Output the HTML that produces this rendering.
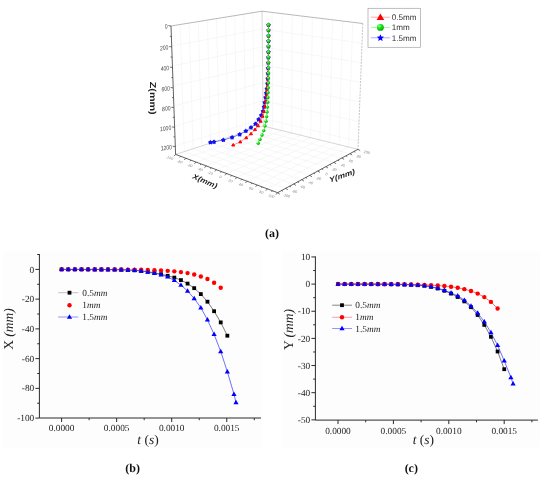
<!DOCTYPE html><html><head><meta charset="utf-8"><title>Figure</title>
<style>html,body{margin:0;padding:0;background:#fff}body{width:550px;height:480px;overflow:hidden}svg{display:block;filter:blur(0.35px)}.ser{font-family:"Liberation Serif", serif}.san{font-family:"Liberation Sans", sans-serif}</style></head><body>
<svg width="550" height="480" viewBox="0 0 550 480" text-rendering="geometricPrecision">
<rect width="550" height="480" fill="#fff"/>
<rect x="3" y="251.5" width="259" height="196" fill="#fdfdfd"/>
<rect x="282" y="251.5" width="258" height="196" fill="#fdfdfd"/>
<g stroke="#2b2b2b" stroke-width="1" fill="none" stroke-linecap="square">
<path d="M39.4 254.5 V418 H260.5"/>
<path d="M39.4 269.4 h-4 M39.4 299.14 h-4 M39.4 328.88 h-4 M39.4 358.62 h-4 M39.4 388.36 h-4 M39.4 418.1 h-4 M39.4 254.53 h-2.2 M39.4 284.27 h-2.2 M39.4 314.01 h-2.2 M39.4 343.75 h-2.2 M39.4 373.49 h-2.2 M39.4 403.23 h-2.2 M61.6 418 v4 M116.65 418 v4 M171.7 418 v4 M226.75 418 v4 M89.12 418 v2.2 M144.18 418 v2.2 M199.22 418 v2.2 M254.27 418 v2.2 " stroke-linecap="butt"/>
</g>
<g class="ser" font-size="9.3" fill="#222" text-anchor="end">
<text x="34.2" y="272.5">0</text>
<text x="34.2" y="302.24">-20</text>
<text x="34.2" y="331.98">-40</text>
<text x="34.2" y="361.72">-60</text>
<text x="34.2" y="391.46">-80</text>
<text x="34.2" y="421.2">-100</text>
</g>
<g class="ser" font-size="9.3" fill="#222" text-anchor="middle">
<text x="61.6" y="431.1">0.0000</text>
<text x="116.65" y="431.1">0.0005</text>
<text x="171.7" y="431.1">0.0010</text>
<text x="226.75" y="431.1">0.0015</text>
</g>
<text class="ser" font-size="13.5" fill="#222" text-anchor="middle" transform="translate(13 329) rotate(-90)">X <tspan font-style="italic">(mm)</tspan></text>
<text class="ser" font-size="13.5" fill="#222" text-anchor="middle" x="148" y="443.8"><tspan font-style="italic">t</tspan> (<tspan font-style="italic">s</tspan>)</text>
<polyline fill="none" stroke="#444" stroke-width="0.7" points="61.6,269.4 68.23,269.4 74.86,269.4 81.49,269.4 88.12,269.4 94.75,269.42 101.38,269.44 108.01,269.49 114.64,269.58 121.27,269.73 127.9,269.97 134.53,270.33 141.16,270.9 147.79,271.7 154.42,272.8 161.05,274.2 167.68,275.8 174.31,277.6 180.94,280.1 187.57,283.6 194.2,288.15 200.83,294.1 207.46,301.7 214.09,311.2 220.72,322.4 227.35,335.7"/>
<g fill="#000">
<rect x="59.7" y="267.5" width="3.8" height="3.8"/>
<rect x="66.33" y="267.5" width="3.8" height="3.8"/>
<rect x="72.96" y="267.5" width="3.8" height="3.8"/>
<rect x="79.59" y="267.5" width="3.8" height="3.8"/>
<rect x="86.22" y="267.5" width="3.8" height="3.8"/>
<rect x="92.85" y="267.52" width="3.8" height="3.8"/>
<rect x="99.48" y="267.54" width="3.8" height="3.8"/>
<rect x="106.11" y="267.59" width="3.8" height="3.8"/>
<rect x="112.74" y="267.68" width="3.8" height="3.8"/>
<rect x="119.37" y="267.83" width="3.8" height="3.8"/>
<rect x="126" y="268.07" width="3.8" height="3.8"/>
<rect x="132.63" y="268.43" width="3.8" height="3.8"/>
<rect x="139.26" y="269" width="3.8" height="3.8"/>
<rect x="145.89" y="269.8" width="3.8" height="3.8"/>
<rect x="152.52" y="270.9" width="3.8" height="3.8"/>
<rect x="159.15" y="272.3" width="3.8" height="3.8"/>
<rect x="165.78" y="273.9" width="3.8" height="3.8"/>
<rect x="172.41" y="275.7" width="3.8" height="3.8"/>
<rect x="179.04" y="278.2" width="3.8" height="3.8"/>
<rect x="185.67" y="281.7" width="3.8" height="3.8"/>
<rect x="192.3" y="286.25" width="3.8" height="3.8"/>
<rect x="198.93" y="292.2" width="3.8" height="3.8"/>
<rect x="205.56" y="299.8" width="3.8" height="3.8"/>
<rect x="212.19" y="309.3" width="3.8" height="3.8"/>
<rect x="218.82" y="320.5" width="3.8" height="3.8"/>
<rect x="225.45" y="333.8" width="3.8" height="3.8"/>
</g>
<g fill="#f00">
<circle cx="61.6" cy="269.41" r="2.2"/>
<circle cx="68.23" cy="269.41" r="2.2"/>
<circle cx="74.86" cy="269.42" r="2.2"/>
<circle cx="81.49" cy="269.42" r="2.2"/>
<circle cx="88.12" cy="269.43" r="2.2"/>
<circle cx="94.75" cy="269.44" r="2.2"/>
<circle cx="101.38" cy="269.46" r="2.2"/>
<circle cx="108.01" cy="269.48" r="2.2"/>
<circle cx="114.64" cy="269.51" r="2.2"/>
<circle cx="121.27" cy="269.55" r="2.2"/>
<circle cx="127.9" cy="269.61" r="2.2"/>
<circle cx="134.53" cy="269.69" r="2.2"/>
<circle cx="141.16" cy="269.8" r="2.2"/>
<circle cx="147.79" cy="269.95" r="2.2"/>
<circle cx="154.42" cy="270.16" r="2.2"/>
<circle cx="161.05" cy="270.44" r="2.2"/>
<circle cx="167.68" cy="270.83" r="2.2"/>
<circle cx="174.31" cy="271.37" r="2.2"/>
<circle cx="180.94" cy="272.11" r="2.2"/>
<circle cx="187.57" cy="273.12" r="2.2"/>
<circle cx="194.2" cy="274.52" r="2.2"/>
<circle cx="200.83" cy="276.44" r="2.2"/>
<circle cx="207.46" cy="279.07" r="2.2"/>
<circle cx="214.09" cy="282.7" r="2.2"/>
<circle cx="220.72" cy="287.69" r="2.2"/>
</g>
<polyline fill="none" stroke="#33f" stroke-width="0.7" points="61.6,269.4 68.23,269.4 74.86,269.4 81.49,269.4 88.12,269.42 94.75,269.44 101.38,269.48 108.01,269.55 114.64,269.65 121.27,269.8 127.9,270.01 134.53,270.3 141.16,271 147.79,272.1 154.42,273.2 161.05,274.7 167.68,276.9 174.31,280.4 180.94,285.1 187.57,291 194.2,298.5 200.83,307.7 207.46,319.8 214.09,334.3 220.72,351.5 227.35,371.7 233.98,394.2 236,402.5"/>
<g fill="#00f">
<path d="M61.6 266.7 l2.6 4.4 h-5.2z"/>
<path d="M68.23 266.7 l2.6 4.4 h-5.2z"/>
<path d="M74.86 266.7 l2.6 4.4 h-5.2z"/>
<path d="M81.49 266.7 l2.6 4.4 h-5.2z"/>
<path d="M88.12 266.72 l2.6 4.4 h-5.2z"/>
<path d="M94.75 266.74 l2.6 4.4 h-5.2z"/>
<path d="M101.38 266.78 l2.6 4.4 h-5.2z"/>
<path d="M108.01 266.85 l2.6 4.4 h-5.2z"/>
<path d="M114.64 266.95 l2.6 4.4 h-5.2z"/>
<path d="M121.27 267.1 l2.6 4.4 h-5.2z"/>
<path d="M127.9 267.31 l2.6 4.4 h-5.2z"/>
<path d="M134.53 267.6 l2.6 4.4 h-5.2z"/>
<path d="M141.16 268.3 l2.6 4.4 h-5.2z"/>
<path d="M147.79 269.4 l2.6 4.4 h-5.2z"/>
<path d="M154.42 270.5 l2.6 4.4 h-5.2z"/>
<path d="M161.05 272 l2.6 4.4 h-5.2z"/>
<path d="M167.68 274.2 l2.6 4.4 h-5.2z"/>
<path d="M174.31 277.7 l2.6 4.4 h-5.2z"/>
<path d="M180.94 282.4 l2.6 4.4 h-5.2z"/>
<path d="M187.57 288.3 l2.6 4.4 h-5.2z"/>
<path d="M194.2 295.8 l2.6 4.4 h-5.2z"/>
<path d="M200.83 305 l2.6 4.4 h-5.2z"/>
<path d="M207.46 317.1 l2.6 4.4 h-5.2z"/>
<path d="M214.09 331.6 l2.6 4.4 h-5.2z"/>
<path d="M220.72 348.8 l2.6 4.4 h-5.2z"/>
<path d="M227.35 369 l2.6 4.4 h-5.2z"/>
<path d="M233.98 391.5 l2.6 4.4 h-5.2z"/>
<path d="M236 399.8 l2.6 4.4 h-5.2z"/>
</g>
<path d="M58.2 292.7 H78.3" stroke="#aaa" stroke-width="0.7"/>
<g fill="#000">
<rect x="67.6" y="290.8" width="3.8" height="3.8"/>
</g>
<text class="ser" font-size="9.3" fill="#222" x="82.3" y="295.7">0.5<tspan font-style="italic">mm</tspan></text>
<g fill="#f00">
<circle cx="69.5" cy="305.2" r="2.2"/>
</g>
<text class="ser" font-size="9.3" fill="#222" x="82.3" y="308.2">1<tspan font-style="italic">mm</tspan></text>
<path d="M58.2 317 H78.3" stroke="#66f" stroke-width="0.7"/>
<g fill="#00f">
<path d="M69.5 314.3 l2.6 4.4 h-5.2z"/>
</g>
<text class="ser" font-size="9.3" fill="#222" x="82.3" y="320">1.5<tspan font-style="italic">mm</tspan></text>
<text class="ser" font-size="12" font-weight="bold" fill="#111" text-anchor="middle" x="132.7" y="471.5">(b)</text>
<g stroke="#2b2b2b" stroke-width="1" fill="none" stroke-linecap="square">
<path d="M315.4 256.9 V420.1 H537.4"/>
<path d="M315.4 256.95 h-4 M315.4 284.1 h-4 M315.4 311.25 h-4 M315.4 338.4 h-4 M315.4 365.55 h-4 M315.4 392.7 h-4 M315.4 419.85 h-4 M315.4 270.53 h-2.2 M315.4 297.68 h-2.2 M315.4 324.82 h-2.2 M315.4 351.98 h-2.2 M315.4 379.12 h-2.2 M315.4 406.28 h-2.2 M338 420.1 v4 M393.4 420.1 v4 M448.8 420.1 v4 M504.2 420.1 v4 M365.7 420.1 v2.2 M421.1 420.1 v2.2 M476.5 420.1 v2.2 M531.9 420.1 v2.2 " stroke-linecap="butt"/>
</g>
<g class="ser" font-size="9.3" fill="#222" text-anchor="end">
<text x="310.2" y="260.05">10</text>
<text x="310.2" y="287.2">0</text>
<text x="310.2" y="314.35">-10</text>
<text x="310.2" y="341.5">-20</text>
<text x="310.2" y="368.65">-30</text>
<text x="310.2" y="395.8">-40</text>
<text x="310.2" y="422.95">-50</text>
</g>
<g class="ser" font-size="9.3" fill="#222" text-anchor="middle">
<text x="338" y="433.7">0.0000</text>
<text x="393.4" y="433.7">0.0005</text>
<text x="448.8" y="433.7">0.0010</text>
<text x="504.2" y="433.7">0.0015</text>
</g>
<text class="ser" font-size="13.5" fill="#222" text-anchor="middle" transform="translate(293 329.5) rotate(-90)">Y <tspan font-style="italic">(mm)</tspan></text>
<text class="ser" font-size="13.5" fill="#222" text-anchor="middle" x="423.4" y="443.7"><tspan font-style="italic">t</tspan> (<tspan font-style="italic">s</tspan>)</text>
<polyline fill="none" stroke="#444" stroke-width="0.7" points="338,284.1 344.65,284.1 351.3,284.1 357.95,284.1 364.6,284.1 371.25,284.11 377.9,284.13 384.55,284.17 391.2,284.24 397.85,284.36 404.5,284.54 411.15,284.81 417.8,285.2 424.45,285.8 431.1,286.9 437.75,288.5 444.4,290.8 451.05,293.6 457.7,297 464.35,301.4 471,307.2 477.65,315 484.3,324.9 490.95,336.8 497.6,351.5 504.25,369.2"/>
<g fill="#000">
<rect x="336.1" y="282.2" width="3.8" height="3.8"/>
<rect x="342.75" y="282.2" width="3.8" height="3.8"/>
<rect x="349.4" y="282.2" width="3.8" height="3.8"/>
<rect x="356.05" y="282.2" width="3.8" height="3.8"/>
<rect x="362.7" y="282.2" width="3.8" height="3.8"/>
<rect x="369.35" y="282.21" width="3.8" height="3.8"/>
<rect x="376" y="282.23" width="3.8" height="3.8"/>
<rect x="382.65" y="282.27" width="3.8" height="3.8"/>
<rect x="389.3" y="282.34" width="3.8" height="3.8"/>
<rect x="395.95" y="282.46" width="3.8" height="3.8"/>
<rect x="402.6" y="282.64" width="3.8" height="3.8"/>
<rect x="409.25" y="282.91" width="3.8" height="3.8"/>
<rect x="415.9" y="283.3" width="3.8" height="3.8"/>
<rect x="422.55" y="283.9" width="3.8" height="3.8"/>
<rect x="429.2" y="285" width="3.8" height="3.8"/>
<rect x="435.85" y="286.6" width="3.8" height="3.8"/>
<rect x="442.5" y="288.9" width="3.8" height="3.8"/>
<rect x="449.15" y="291.7" width="3.8" height="3.8"/>
<rect x="455.8" y="295.1" width="3.8" height="3.8"/>
<rect x="462.45" y="299.5" width="3.8" height="3.8"/>
<rect x="469.1" y="305.3" width="3.8" height="3.8"/>
<rect x="475.75" y="313.1" width="3.8" height="3.8"/>
<rect x="482.4" y="323" width="3.8" height="3.8"/>
<rect x="489.05" y="334.9" width="3.8" height="3.8"/>
<rect x="495.7" y="349.6" width="3.8" height="3.8"/>
<rect x="502.35" y="367.3" width="3.8" height="3.8"/>
</g>
<polyline fill="none" stroke="#f33" stroke-width="0.7" points="338,284.11 344.65,284.12 351.3,284.12 357.95,284.13 364.6,284.14 371.25,284.16 377.9,284.18 384.55,284.22 391.2,284.26 397.85,284.32 404.5,284.4 411.15,284.51 417.8,284.66 424.45,284.86 431.1,285.15 437.75,285.54 444.4,286.07 451.05,286.79 457.7,287.79 464.35,289.16 471,291.03 477.65,293.59 484.3,297.1 490.95,301.91 497.6,308.5"/>
<g fill="#f00">
<circle cx="338" cy="284.11" r="2.2"/>
<circle cx="344.65" cy="284.12" r="2.2"/>
<circle cx="351.3" cy="284.12" r="2.2"/>
<circle cx="357.95" cy="284.13" r="2.2"/>
<circle cx="364.6" cy="284.14" r="2.2"/>
<circle cx="371.25" cy="284.16" r="2.2"/>
<circle cx="377.9" cy="284.18" r="2.2"/>
<circle cx="384.55" cy="284.22" r="2.2"/>
<circle cx="391.2" cy="284.26" r="2.2"/>
<circle cx="397.85" cy="284.32" r="2.2"/>
<circle cx="404.5" cy="284.4" r="2.2"/>
<circle cx="411.15" cy="284.51" r="2.2"/>
<circle cx="417.8" cy="284.66" r="2.2"/>
<circle cx="424.45" cy="284.86" r="2.2"/>
<circle cx="431.1" cy="285.15" r="2.2"/>
<circle cx="437.75" cy="285.54" r="2.2"/>
<circle cx="444.4" cy="286.07" r="2.2"/>
<circle cx="451.05" cy="286.79" r="2.2"/>
<circle cx="457.7" cy="287.79" r="2.2"/>
<circle cx="464.35" cy="289.16" r="2.2"/>
<circle cx="471" cy="291.03" r="2.2"/>
<circle cx="477.65" cy="293.59" r="2.2"/>
<circle cx="484.3" cy="297.1" r="2.2"/>
<circle cx="490.95" cy="301.91" r="2.2"/>
<circle cx="497.6" cy="308.5" r="2.2"/>
</g>
<polyline fill="none" stroke="#33f" stroke-width="0.7" points="338,284.1 344.65,284.1 351.3,284.1 357.95,284.1 364.6,284.1 371.25,284.11 377.9,284.13 384.55,284.17 391.2,284.23 397.85,284.34 404.5,284.5 411.15,284.75 417.8,285.1 424.45,285.6 431.1,286.6 437.75,288.1 444.4,290.3 451.05,292.9 457.7,295.8 464.35,300.1 471,306 477.65,313 484.3,321.6 490.95,332.5 497.6,345.3 504.25,360.8 510.9,377.5 513.1,383.8"/>
<g fill="#00f">
<path d="M338 281.4 l2.6 4.4 h-5.2z"/>
<path d="M344.65 281.4 l2.6 4.4 h-5.2z"/>
<path d="M351.3 281.4 l2.6 4.4 h-5.2z"/>
<path d="M357.95 281.4 l2.6 4.4 h-5.2z"/>
<path d="M364.6 281.4 l2.6 4.4 h-5.2z"/>
<path d="M371.25 281.41 l2.6 4.4 h-5.2z"/>
<path d="M377.9 281.43 l2.6 4.4 h-5.2z"/>
<path d="M384.55 281.47 l2.6 4.4 h-5.2z"/>
<path d="M391.2 281.53 l2.6 4.4 h-5.2z"/>
<path d="M397.85 281.64 l2.6 4.4 h-5.2z"/>
<path d="M404.5 281.8 l2.6 4.4 h-5.2z"/>
<path d="M411.15 282.05 l2.6 4.4 h-5.2z"/>
<path d="M417.8 282.4 l2.6 4.4 h-5.2z"/>
<path d="M424.45 282.9 l2.6 4.4 h-5.2z"/>
<path d="M431.1 283.9 l2.6 4.4 h-5.2z"/>
<path d="M437.75 285.4 l2.6 4.4 h-5.2z"/>
<path d="M444.4 287.6 l2.6 4.4 h-5.2z"/>
<path d="M451.05 290.2 l2.6 4.4 h-5.2z"/>
<path d="M457.7 293.1 l2.6 4.4 h-5.2z"/>
<path d="M464.35 297.4 l2.6 4.4 h-5.2z"/>
<path d="M471 303.3 l2.6 4.4 h-5.2z"/>
<path d="M477.65 310.3 l2.6 4.4 h-5.2z"/>
<path d="M484.3 318.9 l2.6 4.4 h-5.2z"/>
<path d="M490.95 329.8 l2.6 4.4 h-5.2z"/>
<path d="M497.6 342.6 l2.6 4.4 h-5.2z"/>
<path d="M504.25 358.1 l2.6 4.4 h-5.2z"/>
<path d="M510.9 374.8 l2.6 4.4 h-5.2z"/>
<path d="M513.1 381.1 l2.6 4.4 h-5.2z"/>
</g>
<path d="M332.2 305.2 H352" stroke="#555" stroke-width="0.7"/>
<g fill="#000">
<rect x="340.1" y="303.3" width="3.8" height="3.8"/>
</g>
<text class="ser" font-size="9.3" fill="#222" x="355.3" y="308.2">0.5<tspan font-style="italic">mm</tspan></text>
<path d="M332.2 317.25 H352" stroke="#f77" stroke-width="0.7"/>
<g fill="#f00">
<circle cx="342" cy="317.25" r="2.2"/>
</g>
<text class="ser" font-size="9.3" fill="#222" x="355.3" y="320.25">1<tspan font-style="italic">mm</tspan></text>
<path d="M332.2 328.5 H352" stroke="#66f" stroke-width="0.7"/>
<g fill="#00f">
<path d="M342 325.8 l2.6 4.4 h-5.2z"/>
</g>
<text class="ser" font-size="9.3" fill="#222" x="355.3" y="331.5">1.5<tspan font-style="italic">mm</tspan></text>
<text class="ser" font-size="12" font-weight="bold" fill="#111" text-anchor="middle" x="411.3" y="471.5">(c)</text>
<path d="M171.72 46.02 L262.19 29.1 M262.19 29.1 L362.05 43.11 M172.43 66.03 L262.37 46.99 M262.37 46.99 L361.3 62.72 M173.15 86.05 L262.56 64.89 M262.56 64.89 L360.56 82.33 M173.87 106.06 L262.75 82.78 M262.75 82.78 L359.81 101.94 M174.59 126.08 L262.94 100.68 M262.94 100.68 L359.06 121.55 M175.3 146.09 L263.12 118.57 M263.12 118.57 L358.31 141.16 M180.1 24.52 L184.36 151.56 M272.08 12.43 L272.68 128.33 M184.36 151.56 L285.64 188.36 M185.8 158.23 L272.68 128.33 M189.2 23.04 L193.12 148.72 M282.16 13.66 L282.16 130.66 M193.12 148.72 L293.68 184.02 M196 162.06 L282.16 130.66 M198.3 21.56 L201.88 145.88 M292.24 14.89 L291.64 132.99 M201.88 145.88 L301.72 179.68 M206.2 165.89 L291.64 132.99 M207.4 20.08 L210.64 143.04 M302.32 16.12 L301.12 135.32 M210.64 143.04 L309.76 175.34 M216.4 169.72 L301.12 135.32 M216.5 18.6 L219.4 140.2 M312.4 17.35 L310.6 137.65 M219.4 140.2 L317.8 171 M226.6 173.55 L310.6 137.65 M225.6 17.12 L228.16 137.36 M322.48 18.58 L320.08 139.98 M228.16 137.36 L325.84 166.66 M236.8 177.38 L320.08 139.98 M234.7 15.64 L236.92 134.52 M332.56 19.81 L329.56 142.31 M236.92 134.52 L333.88 162.32 M247 181.21 L329.56 142.31 M243.8 14.16 L245.68 131.68 M342.64 21.04 L339.04 144.64 M245.68 131.68 L341.92 157.98 M257.2 185.04 L339.04 144.64 M252.9 12.68 L254.44 128.84 M352.72 22.27 L348.52 146.97 M254.44 128.84 L349.96 153.64 M267.4 188.87 L348.52 146.97 " stroke="#f1f1f1" stroke-width="0.6" fill="none"/>
<path d="M262 11.2 L263.2 126 M175.6 154.4 L263.2 126 M263.2 126 L358 149.3 " stroke="#c4c4c4" stroke-width="0.7" fill="none"/>
<path d="M171 26 L262 11.2 M262 11.2 L362.8 23.5 " stroke="#9a9a9a" stroke-width="0.7" fill="none"/>
<path d="M362.8 23.5 L358 149.3 " stroke="#aaa" stroke-width="0.7" stroke-dasharray="2 1.2" fill="none"/>
<path d="M171 26 L175.6 154.4 M175.6 154.4 L277.6 192.7 M277.6 192.7 L358 149.3 " stroke="#3a3a3a" stroke-width="0.8" fill="none"/>
<path d="M171 26 l-2.6 -0.4 M171.37 36.45 l-1.5 -0.2 M171.75 46.9 l-2.6 -0.4 M172.12 57.2 l-1.5 -0.2 M172.49 67.5 l-2.6 -0.4 M172.85 77.7 l-1.5 -0.2 M173.22 87.9 l-2.6 -0.4 M173.57 97.75 l-1.5 -0.2 M173.92 107.6 l-2.6 -0.4 M174.27 117.45 l-1.5 -0.2 M174.63 127.3 l-2.6 -0.4 M174.97 136.95 l-1.5 -0.2 M175.32 146.6 l-2.6 -0.4 M175.6 154.4 l-1.6 1.8 M277.6 192.7 l2.2 1.4 M185.8 158.23 l-1.6 1.8 M285.64 188.36 l2.2 1.4 M196 162.06 l-1.6 1.8 M293.68 184.02 l2.2 1.4 M206.2 165.89 l-1.6 1.8 M301.72 179.68 l2.2 1.4 M216.4 169.72 l-1.6 1.8 M309.76 175.34 l2.2 1.4 M226.6 173.55 l-1.6 1.8 M317.8 171 l2.2 1.4 M236.8 177.38 l-1.6 1.8 M325.84 166.66 l2.2 1.4 M247 181.21 l-1.6 1.8 M333.88 162.32 l2.2 1.4 M257.2 185.04 l-1.6 1.8 M341.92 157.98 l2.2 1.4 M267.4 188.87 l-1.6 1.8 M349.96 153.64 l2.2 1.4 M277.6 192.7 l-1.6 1.8 M358 149.3 l2.2 1.4 M180.7 156.31 l-1 1.1 M281.62 190.53 l1.3 0.8 M190.9 160.15 l-1 1.1 M289.66 186.19 l1.3 0.8 M201.1 163.97 l-1 1.1 M297.7 181.85 l1.3 0.8 M211.3 167.81 l-1 1.1 M305.74 177.51 l1.3 0.8 M221.5 171.63 l-1 1.1 M313.78 173.17 l1.3 0.8 M231.7 175.47 l-1 1.1 M321.82 168.83 l1.3 0.8 M241.9 179.29 l-1 1.1 M329.86 164.49 l1.3 0.8 M252.1 183.12 l-1 1.1 M337.9 160.15 l1.3 0.8 M262.3 186.95 l-1 1.1 M345.94 155.81 l1.3 0.8 M272.5 190.78 l-1 1.1 M353.98 151.47 l1.3 0.8 " stroke="#333" stroke-width="0.7" fill="none"/>
<g class="san" font-size="6.2" fill="#4a4a4a" text-anchor="end" font-style="italic">
<text transform="translate(167.8 28.4) rotate(-8) scale(0.82 1)">0</text>
<text transform="translate(168.55 49.3) rotate(-8) scale(0.82 1)">200</text>
<text transform="translate(169.29 69.9) rotate(-8) scale(0.82 1)">400</text>
<text transform="translate(170.02 90.3) rotate(-8) scale(0.82 1)">600</text>
<text transform="translate(170.72 110) rotate(-8) scale(0.82 1)">800</text>
<text transform="translate(171.43 129.7) rotate(-8) scale(0.82 1)">1000</text>
<text transform="translate(172.12 149) rotate(-8) scale(0.82 1)">1200</text>
</g>
<g class="san" font-size="3.7" fill="#8a8a8a" text-anchor="middle" font-style="italic">
<text transform="translate(169.1 159) rotate(18)">-100</text>
<text transform="translate(179.3 162.83) rotate(18)">-80</text>
<text transform="translate(189.5 166.66) rotate(18)">-60</text>
<text transform="translate(199.7 170.49) rotate(18)">-40</text>
<text transform="translate(209.9 174.32) rotate(18)">-20</text>
<text transform="translate(220.1 178.15) rotate(18)">0</text>
<text transform="translate(230.3 181.98) rotate(18)">20</text>
<text transform="translate(240.5 185.81) rotate(18)">40</text>
<text transform="translate(250.7 189.64) rotate(18)">60</text>
<text transform="translate(260.9 193.47) rotate(18)">80</text>
<text transform="translate(271.1 197.3) rotate(18)">100</text>
<text transform="translate(286.1 196.9) rotate(14)">-100</text>
<text transform="translate(294.14 192.56) rotate(14)">-80</text>
<text transform="translate(302.18 188.22) rotate(14)">-60</text>
<text transform="translate(310.22 183.88) rotate(14)">-40</text>
<text transform="translate(318.26 179.54) rotate(14)">-20</text>
<text transform="translate(326.3 175.2) rotate(14)">0</text>
<text transform="translate(334.34 170.86) rotate(14)">20</text>
<text transform="translate(342.38 166.52) rotate(14)">40</text>
<text transform="translate(350.42 162.18) rotate(14)">60</text>
<text transform="translate(358.46 157.84) rotate(14)">80</text>
<text transform="translate(366.5 153.5) rotate(14)">100</text>
</g>
<g class="san" font-weight="bold" fill="#222" text-anchor="middle">
<text font-size="8.6" transform="translate(150 98.2) rotate(90) scale(1.25 1)">Z(mm)</text>
<text font-size="8" font-style="italic" transform="translate(204 183.4) rotate(23) scale(1.05 0.92)">X(mm)</text>
<text font-size="8" transform="translate(342.3 178.3) rotate(-19) skewX(-18) scale(1.08 0.92)">Y(mm)</text>
</g>
<polyline fill="none" stroke="#55f" stroke-width="0.75" points="268.5,24.8 268.5,30.2 268.49,35.7 268.48,41.02 268.45,46.34 268.4,51.87 268.33,57.33 268.23,62.7 268.1,68.1 267.93,73.42 267.72,78.58 267.46,83.57 266.9,88.75 266.25,93.1 265.6,97.5 264.75,102.5 264,106.9 263,111.25 261.25,115.25 258.6,119.4 255.5,123.8 251,127.5 245.85,131 239.7,134.4 232.1,137.4 223.3,140 214,141.9 210.4,142.3"/>
<g fill="#11e">
<polygon points="268.5,22.4 269.5,23.52 270.88,24.13 270.12,25.43 269.97,26.92 268.5,26.6 267.03,26.92 266.88,25.43 266.12,24.13 267.5,23.52"/>
<polygon points="268.5,27.8 269.5,28.93 270.88,29.53 270.12,30.83 269.97,32.32 268.5,32 267.03,32.32 266.88,30.83 266.12,29.53 267.5,28.93"/>
<polygon points="268.49,33.3 269.49,34.43 270.87,35.03 270.11,36.33 269.96,37.83 268.49,37.5 267.02,37.83 266.88,36.33 266.12,35.03 267.49,34.43"/>
<polygon points="268.48,38.62 269.48,39.74 270.86,40.34 270.1,41.64 269.95,43.14 268.48,42.82 267.01,43.14 266.86,41.64 266.1,40.34 267.48,39.74"/>
<polygon points="268.45,43.94 269.45,45.06 270.83,45.66 270.07,46.96 269.92,48.46 268.45,48.14 266.98,48.46 266.83,46.96 266.07,45.66 267.45,45.06"/>
<polygon points="268.4,49.47 269.4,50.6 270.78,51.2 270.02,52.5 269.87,53.99 268.4,53.67 266.93,53.99 266.79,52.5 266.02,51.2 267.4,50.6"/>
<polygon points="268.33,54.93 269.33,56.05 270.71,56.65 269.95,57.95 269.8,59.45 268.33,59.13 266.86,59.45 266.71,57.95 265.95,56.65 267.33,56.05"/>
<polygon points="268.23,60.3 269.23,61.42 270.61,62.03 269.85,63.32 269.7,64.82 268.23,64.5 266.76,64.82 266.62,63.32 265.85,62.03 267.23,61.42"/>
<polygon points="268.1,65.7 269.1,66.82 270.48,67.42 269.72,68.72 269.57,70.22 268.1,69.9 266.63,70.22 266.48,68.72 265.72,67.42 267.1,66.82"/>
<polygon points="267.93,71.02 268.93,72.15 270.31,72.75 269.55,74.05 269.4,75.54 267.93,75.22 266.46,75.54 266.31,74.05 265.55,72.75 266.93,72.15"/>
<polygon points="267.72,76.18 268.72,77.3 270.1,77.91 269.34,79.2 269.19,80.7 267.72,80.38 266.25,80.7 266.1,79.2 265.34,77.91 266.72,77.3"/>
<polygon points="267.46,81.17 268.46,82.29 269.84,82.9 269.08,84.2 268.93,85.69 267.46,85.37 265.99,85.69 265.84,84.2 265.08,82.9 266.46,82.29"/>
<polygon points="266.9,86.35 267.9,87.47 269.28,88.08 268.52,89.38 268.37,90.87 266.9,90.55 265.43,90.87 265.28,89.38 264.52,88.08 265.9,87.47"/>
<polygon points="266.25,90.7 267.25,91.82 268.63,92.43 267.87,93.73 267.72,95.22 266.25,94.9 264.78,95.22 264.63,93.73 263.87,92.43 265.25,91.82"/>
<polygon points="265.6,95.1 266.6,96.22 267.98,96.83 267.22,98.13 267.07,99.62 265.6,99.3 264.13,99.62 263.98,98.13 263.22,96.83 264.6,96.22"/>
<polygon points="264.75,100.1 265.75,101.22 267.13,101.83 266.37,103.13 266.22,104.62 264.75,104.3 263.28,104.62 263.13,103.13 262.37,101.83 263.75,101.22"/>
<polygon points="264,104.5 265,105.62 266.38,106.23 265.62,107.53 265.47,109.02 264,108.7 262.53,109.02 262.38,107.53 261.62,106.23 263,105.62"/>
<polygon points="263,108.85 264,109.97 265.38,110.58 264.62,111.88 264.47,113.37 263,113.05 261.53,113.37 261.38,111.88 260.62,110.58 262,109.97"/>
<polygon points="261.25,112.85 262.25,113.97 263.63,114.58 262.87,115.88 262.72,117.37 261.25,117.05 259.78,117.37 259.63,115.88 258.87,114.58 260.25,113.97"/>
<polygon points="258.6,117 259.6,118.12 260.98,118.73 260.22,120.03 260.07,121.52 258.6,121.2 257.13,121.52 256.98,120.03 256.22,118.73 257.6,118.12"/>
<polygon points="255.5,121.4 256.5,122.52 257.88,123.13 257.12,124.43 256.97,125.92 255.5,125.6 254.03,125.92 253.88,124.43 253.12,123.13 254.5,122.52"/>
<polygon points="251,125.1 252,126.22 253.38,126.83 252.62,128.13 252.47,129.62 251,129.3 249.53,129.62 249.38,128.13 248.62,126.83 250,126.22"/>
<polygon points="245.85,128.6 246.85,129.72 248.23,130.33 247.47,131.63 247.32,133.12 245.85,132.8 244.38,133.12 244.23,131.63 243.47,130.33 244.85,129.72"/>
<polygon points="239.7,132 240.7,133.12 242.08,133.73 241.32,135.03 241.17,136.52 239.7,136.2 238.23,136.52 238.08,135.03 237.32,133.73 238.7,133.12"/>
<polygon points="232.1,135 233.1,136.12 234.48,136.73 233.72,138.03 233.57,139.52 232.1,139.2 230.63,139.52 230.48,138.03 229.72,136.73 231.1,136.12"/>
<polygon points="223.3,137.6 224.3,138.72 225.68,139.33 224.92,140.63 224.77,142.12 223.3,141.8 221.83,142.12 221.68,140.63 220.92,139.33 222.3,138.72"/>
<polygon points="214,139.5 215,140.62 216.38,141.23 215.62,142.53 215.47,144.02 214,143.7 212.53,144.02 212.38,142.53 211.62,141.23 213,140.62"/>
<polygon points="210.4,139.9 211.4,141.02 212.78,141.63 212.02,142.93 211.87,144.42 210.4,144.1 208.93,144.42 208.78,142.93 208.02,141.63 209.4,141.02"/>
</g>
<polyline fill="none" stroke="#f44" stroke-width="0.6" points="268.5,24.8 268.5,30.2 268.5,35.69 268.49,40.98 268.47,46.25 268.45,51.71 268.41,57.04 268.35,62.25 268.28,67.43 268.18,72.47 268.07,77.28 267.92,81.84 267.5,86.5 267,90.8 266.4,95.8 265.9,101.25 265.1,106.5 263.9,111.5 262.5,116.25 260.6,121.25 258,125.6 255,129.6 251,133.75 246.25,137.75 240.25,141.9 233.2,145"/>
<g fill="#f00" stroke="#f00" stroke-width="1" stroke-linejoin="round">
<path d="M268.5 23.3 l1.5 2.5 h-3z"/>
<path d="M268.5 28.7 l1.5 2.5 h-3z"/>
<path d="M268.5 34.19 l1.5 2.5 h-3z"/>
<path d="M268.49 39.48 l1.5 2.5 h-3z"/>
<path d="M268.47 44.75 l1.5 2.5 h-3z"/>
<path d="M268.45 50.21 l1.5 2.5 h-3z"/>
<path d="M268.41 55.54 l1.5 2.5 h-3z"/>
<path d="M268.35 60.75 l1.5 2.5 h-3z"/>
<path d="M268.28 65.93 l1.5 2.5 h-3z"/>
<path d="M268.18 70.97 l1.5 2.5 h-3z"/>
<path d="M268.07 75.78 l1.5 2.5 h-3z"/>
<path d="M267.92 80.34 l1.5 2.5 h-3z"/>
<path d="M267.5 85 l1.5 2.5 h-3z"/>
<path d="M267 89.3 l1.5 2.5 h-3z"/>
<path d="M266.4 94.3 l1.5 2.5 h-3z"/>
<path d="M265.9 99.75 l1.5 2.5 h-3z"/>
<path d="M265.1 105 l1.5 2.5 h-3z"/>
<path d="M263.9 110 l1.5 2.5 h-3z"/>
<path d="M262.5 114.75 l1.5 2.5 h-3z"/>
<path d="M260.6 119.75 l1.5 2.5 h-3z"/>
<path d="M258 124.1 l1.5 2.5 h-3z"/>
<path d="M255 128.1 l1.5 2.5 h-3z"/>
<path d="M251 132.25 l1.5 2.5 h-3z"/>
<path d="M246.25 136.25 l1.5 2.5 h-3z"/>
<path d="M240.25 140.4 l1.5 2.5 h-3z"/>
<path d="M233.2 143.5 l1.5 2.5 h-3z"/>
</g>
<polyline fill="none" stroke="#3d3" stroke-width="0.7" points="268.5,24.8 268.5,30.2 268.5,35.7 268.5,41 268.5,46.3 268.5,51.8 268.5,57.2 268.5,62.5 268.5,67.8 268.5,73 268.5,78 268.5,82.8 268.25,87.75 268.1,92.5 268,97.5 267.75,102.25 267.5,107.1 267.1,111.9 266.6,116.6 266,121.25 265,125.9 263.75,130.6 262,135 260,139.4 258.2,143.2"/>
<defs><radialGradient id="gs" cx="0.35" cy="0.3" r="0.7"><stop offset="0" stop-color="#bfb"/><stop offset="0.35" stop-color="#2e2"/><stop offset="1" stop-color="#0a0"/></radialGradient></defs>
<g fill="url(#gs)">
<circle cx="268.5" cy="24.8" r="1.7"/>
<circle cx="268.5" cy="30.2" r="1.7"/>
<circle cx="268.5" cy="35.7" r="1.7"/>
<circle cx="268.5" cy="41" r="1.7"/>
<circle cx="268.5" cy="46.3" r="1.7"/>
<circle cx="268.5" cy="51.8" r="1.7"/>
<circle cx="268.5" cy="57.2" r="1.7"/>
<circle cx="268.5" cy="62.5" r="1.7"/>
<circle cx="268.5" cy="67.8" r="1.7"/>
<circle cx="268.5" cy="73" r="1.7"/>
<circle cx="268.5" cy="78" r="1.7"/>
<circle cx="268.5" cy="82.8" r="1.7"/>
<circle cx="268.25" cy="87.75" r="1.7"/>
<circle cx="268.1" cy="92.5" r="1.7"/>
<circle cx="268" cy="97.5" r="1.7"/>
<circle cx="267.75" cy="102.25" r="1.7"/>
<circle cx="267.5" cy="107.1" r="1.7"/>
<circle cx="267.1" cy="111.9" r="1.7"/>
<circle cx="266.6" cy="116.6" r="1.7"/>
<circle cx="266" cy="121.25" r="1.7"/>
<circle cx="265" cy="125.9" r="1.7"/>
<circle cx="263.75" cy="130.6" r="1.7"/>
<circle cx="262" cy="135" r="1.7"/>
<circle cx="260" cy="139.4" r="1.7"/>
<circle cx="258.2" cy="143.2" r="1.7"/>
</g>
<rect x="368" y="8.3" width="52.4" height="39" fill="#fff" stroke="#a4a4a4" stroke-width="0.7"/>
<path d="M370.8 17.2 H390" stroke="#f88" stroke-width="0.7"/>
<path d="M370.8 27.4 H390" stroke="#8e8" stroke-width="0.7"/>
<path d="M370.8 37.8 H390" stroke="#88f" stroke-width="0.7"/>
<path d="M380.4 13.6 l3.8 6.4 h-7.6z" fill="#f00"/>
<circle cx="380.4" cy="27.4" r="3.4" fill="url(#gs)"/>
<g fill="#00f"><polygon points="380.4,34.2 381.41,36.62 384.01,36.83 382.03,38.53 382.63,41.07 380.4,39.71 378.17,41.07 378.77,38.53 376.79,36.83 379.39,36.62"/></g>
<g class="san" font-size="8.1" fill="#333">
<text x="391.8" y="20.1">0.5mm</text>
<text x="391.8" y="30.3">1mm</text>
<text x="391.8" y="40.7">1.5mm</text>
</g>
<text class="ser" font-size="12" font-weight="bold" fill="#111" text-anchor="middle" x="271.9" y="236.8">(a)</text>
</svg></body></html>
